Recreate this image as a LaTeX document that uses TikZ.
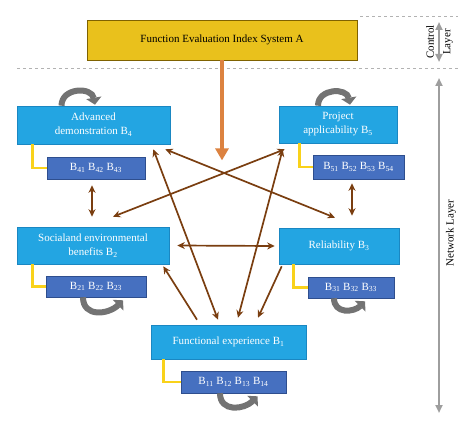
\documentclass[tikz,border=0pt]{standalone}
\usepackage{fontspec}
\setmainfont{Liberation Serif}
\usepackage{tikz}
\usetikzlibrary{arrows.meta,calc,positioning}
\definecolor{critblue}{HTML}{23A5E2}
\definecolor{critline}{HTML}{1A87C2}
\definecolor{subblue}{HTML}{4670C0}
\definecolor{subline}{HTML}{2E4E8E}
\definecolor{goalfill}{HTML}{E9C11C}
\definecolor{goalline}{HTML}{7F6200}
\definecolor{linkbrown}{HTML}{7A3E10}
\definecolor{feedorange}{HTML}{DC8240}
\definecolor{tieyellow}{HTML}{F9D21A}
\tikzset{
	layer diagram/.style={
		x=1pt, y=-1pt,
		every node/.style={font=\fontsize{11}{14}\selectfont, inner sep=1pt},
		crit/.style={draw=critline, fill=critblue, text=white, align=center, line width=.6pt},
		sub crit/.style={draw=subline, fill=subblue, text=white, line width=.6pt},
		goal/.style={draw=goalline, fill=goalfill, line width=.8pt, minimum width=270, minimum height=40},
		ar/.style={draw=linkbrown, line width=1.7pt, -{Stealth[length=7.5pt,width=7pt]}},
		dar/.style={ar, {Stealth[length=7.5pt,width=7pt]}-{Stealth[length=7.5pt,width=7pt]}},
		tie/.style={draw=tieyellow, line width=2.6pt},
		self/.style={draw=black!55, line width=6pt, -{Triangle[length=7pt,width=15pt]}},
		layer line/.style={draw=black!30, dashed, line width=.7pt},
		layer arrow/.style={draw=black!38, line width=2.2pt, {Triangle[length=8pt,width=7pt]}-{Triangle[length=8pt,width=7pt]}}
	}
}

\begin{document}
\begin{tikzpicture}[layer diagram]
	\useasboundingbox (0,0) rectangle (474,428);
	% control and network layers
	\draw[layer line] (360,16) -- (458,16);
	\draw[layer line] (17,68) -- (458,68);
	\draw[layer arrow] (439,22) -- (439,62);
	\draw[layer arrow] (439,78) -- (439,413);
	\node[rotate=90] (ctl) at (430,42) {Control};
	\node[rotate=90] (lay) at (448,42) {Layer};
	\node[rotate=90] (net) at (451,233) {Network Layer};

	\node[goal] (A) at (222,40) {Function Evaluation Index System A};

	\node[crit, minimum width=153, minimum height=38] (B4) at (93.5,125) {Advanced\\demonstration B\textsubscript{4}};
	\node[crit, minimum width=118, minimum height=37] (B5) at (338,124.5) {Project\\applicability B\textsubscript{5}};
	\node[crit, minimum width=152, minimum height=37] (B2) at (93,245.5) {Socialand environmental\\benefits B\textsubscript{2}};
	\node[crit, minimum width=120, minimum height=36] (B3) at (339,246) {Reliability B\textsubscript{3}};
	\node[crit, minimum width=155, minimum height=34] (B1) at (228.5,342) {Functional experience B\textsubscript{1}};

	\node[sub crit, minimum width=98, minimum height=22] (B41) at (96,168) {B\textsubscript{41} B\textsubscript{42} B\textsubscript{43}};
	\node[sub crit, minimum width=91, minimum height=24] (B51) at (358.5,167) {B\textsubscript{51} B\textsubscript{52} B\textsubscript{53} B\textsubscript{54}};
	\node[sub crit, minimum width=100, minimum height=21] (B21) at (96,286.5) {B\textsubscript{21} B\textsubscript{22} B\textsubscript{23}};
	\node[sub crit, minimum width=86, minimum height=21] (B31) at (351,287.5) {B\textsubscript{31} B\textsubscript{32} B\textsubscript{33}};
	\node[sub crit, minimum width=105, minimum height=22] (B11) at (233.5,382) {B\textsubscript{11} B\textsubscript{12} B\textsubscript{13} B\textsubscript{14}};

	% index ties
	\draw[tie] ($(B4.south west)+(16,0)$) |- (B41.west);
	\draw[tie] ($(B5.south west)+(21,0)$) |- (B51.west);
	\draw[tie] ($(B2.south west)+(16,0)$) |- (B21.west);
	\draw[tie] ($(B3.south west)+(15,0)$) |- (B31.west);
	\draw[tie] ($(B1.south west)+(13,0)$) |- (B11.west);

	% self feedback
	\draw[self] ($(B4.north)+(-32,0)$) to[out=90, in=100, looseness=1.4] ($(B4.north)+(1.5,-1)$);
	\draw[self] ($(B5.north)+(-20,0)$) to[out=90, in=100, looseness=1.4] ($(B5.north)+(12,-1)$);
	\draw[self] ($(B21.south)+(-13,0)$) to[out=-90, in=225, looseness=1.3] ($(B21.south)+(27,3)$);
	\draw[self] ($(B31.south)+(-17,0)$) to[out=-90, in=225, looseness=1.3] ($(B31.south)+(14,3)$);
	\draw[self] ($(B11.south)+(-13.5,0)$) to[out=-90, in=225, looseness=1.3] ($(B11.south)+(24,3)$);

	\draw[feedorange, line width=4.5pt, -{Triangle[length=12pt,width=13pt]}] (A.south) -- ($(A.south)+(0,100)$);

	% influence links
	\draw[dar] ($(B4.south east)+(-17,5)$) -- ($(B1.north)+(-10.5,-5)$);
	\draw[dar] ($(B4.south east)+(-5,5)$) -- ($(B3.north)+(-4,-10)$);
	\draw[dar] ($(B5.south west)+(6,6)$) -- ($(B2.north)+(20,-10)$);
	\draw[dar] ($(B5.south west)+(4,6)$) -- ($(B1.north)+(9.5,-7)$);
	\draw[dar] ($(B2.east)+(8,0)$) -- ($(B3.west)+(-4,0)$);
	\draw[ar] ($(B1.north)+(-31.5,-5)$) -- ($(B2.south east)+(-6,2)$);
	\draw[ar] ($(B3.south west)+(3,2)$) -- ($(B1.north)+(29.5,-7)$);
	\draw[dar] ($(B41.south)+(-4,6)$) -- ($(B2.north)+(-1,-10)$);
	\draw[dar] ($(B51.south)+(-6.5,4)$) -- ($(B3.north)+(13,-12)$);
\end{tikzpicture}
\end{document}
